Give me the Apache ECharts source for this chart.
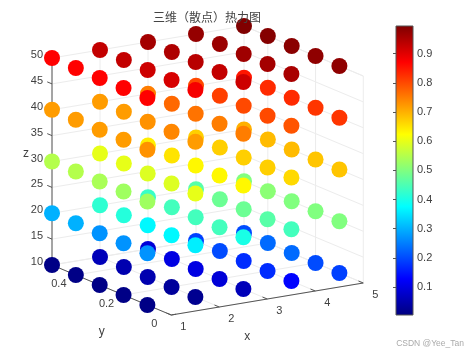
<!DOCTYPE html>
<html>
<head>
<meta charset="utf-8">
<title>三维（散点）热力图</title>
<script src="https://cdn.jsdelivr.net/npm/echarts@6/dist/echarts.min.js"></script>
<style>
    html, body { margin: 0; padding: 0; background: #fff; }
    #main { width: 474px; height: 355px; }
</style>
</head>
<body>
<div id="main"></div>
<script>
var xValues = [1, 2, 3, 4, 5];
var yValues = [0.5, 0.4, 0.3, 0.2, 0.1];
var zValues = [10, 20, 30, 40, 50];

// one row per x, one column per y (0.5 -> 0.1)
var valuesZ10 = [
    [0.01, 0.01, 0.01, 0.01, 0.01],
    [0.06, 0.05, 0.05, 0.03, 0.02],
    [0.09, 0.10, 0.10, 0.09, 0.06],
    [0.19, 0.20, 0.17, 0.17, 0.13],
    [0.20, 0.23, 0.23, 0.20, 0.19]
];
var valuesZ20 = [
    [0.30, 0.30, 0.27, 0.27, 0.27],
    [0.42, 0.41, 0.37, 0.37, 0.36],
    [0.43, 0.44, 0.44, 0.44, 0.40],
    [0.46, 0.48, 0.48, 0.46, 0.44],
    [0.50, 0.51, 0.50, 0.50, 0.50]
];
var valuesZ30 = [
    [0.55, 0.55, 0.54, 0.53, 0.53],
    [0.60, 0.60, 0.59, 0.59, 0.60],
    [0.64, 0.65, 0.63, 0.63, 0.63],
    [0.67, 0.67, 0.67, 0.67, 0.66],
    [0.70, 0.69, 0.69, 0.68, 0.68]
];
var valuesZ40 = [
    [0.72, 0.72, 0.72, 0.72, 0.73],
    [0.72, 0.72, 0.73, 0.74, 0.72],
    [0.75, 0.77, 0.76, 0.75, 0.75],
    [0.80, 0.81, 0.80, 0.80, 0.79],
    [0.85, 0.83, 0.83, 0.82, 0.82]
];
var valuesZ50 = [
    [0.87, 0.87, 0.87, 0.87, 0.87],
    [0.93, 0.93, 0.92, 0.91, 0.88],
    [0.96, 0.95, 0.94, 0.93, 0.92],
    [0.975, 0.97, 0.965, 0.96, 0.955],
    [0.995, 0.99, 0.985, 0.98, 0.98]
];
var layers = [valuesZ10, valuesZ20, valuesZ30, valuesZ40, valuesZ50];

var xTicks = [1, 2, 3, 4, 5];
var yTicks = [0, 0.2, 0.4];
var zTicks = [10, 15, 20, 25, 30, 35, 40, 45, 50];
var colorbarTicks = [0.1, 0.2, 0.3, 0.4, 0.5, 0.6, 0.7, 0.8, 0.9];
var jet = ['#000080', '#0000ff', '#0080ff', '#00ffff', '#80ff80', '#ffff00', '#ff8000', '#ff0000', '#800000'];

var colorMin = 0.004, colorMax = 0.995;
var xMin = 1, xMax = 5, yMin = 0, yMax = 0.5, zMin = 10, zMax = 50;
var TICK_FONT = '"Liberation Sans", Arial, sans-serif';

// the camera: fixed oblique view, scene units equal the page pixels
function project(x, y, z) {
    var i = x - 1, j = (0.5 - y) * 10, k = (z - 10) / 10;
    return [52 + 48 * i + 23.85 * j, 265 - 8 * i + 10 * j - 51.75 * k];
}

function seg(a, b) {
    var p = project(a[0], a[1], a[2]), q = project(b[0], b[1], b[2]);
    return [p[0], p[1], q[0], q[1]];
}

var gridSegs = [], axisSegs = [];

zTicks.forEach(function(z) {
    gridSegs.push(seg([xMin, yMax, z], [xMax, yMax, z]));
    gridSegs.push(seg([xMax, yMax, z], [xMax, yMin, z]));
    axisSegs.push(seg([xMin, yMax, z], [xMin, yMax + 0.02, z]));
});
xTicks.forEach(function(x) {
    gridSegs.push(seg([x, yMax, zMin], [x, yMax, zMax]));
    gridSegs.push(seg([x, yMin, zMin], [x, yMax, zMin]));
    axisSegs.push(seg([x, yMin, zMin], [x, yMin + 0.02, zMin]));
});
yTicks.forEach(function(y) {
    gridSegs.push(seg([xMax, y, zMin], [xMax, y, zMax]));
    gridSegs.push(seg([xMin, y, zMin], [xMax, y, zMin]));
    axisSegs.push(seg([xMin, y, zMin], [xMin + 0.1, y, zMin]));
});
gridSegs.push(seg([xMin, yMax, zMin], [xMax, yMax, zMin]));
gridSegs.push(seg([xMax, yMax, zMax], [xMax, yMin, zMax]));

axisSegs.push(seg([xMin, yMax, zMin], [xMin, yMax, zMax]));
axisSegs.push(seg([xMin, yMax, zMin], [xMin, yMin, zMin]));
axisSegs.push(seg([xMin, yMin, zMin], [xMax, yMin, zMin]));

// far dots first so the near ones cover them, like the depth sort in the picture
var dots = [];
zValues.forEach(function(z, k) {
    for (var i = xValues.length - 1; i >= 0; i--) {
        yValues.forEach(function(y, j) {
            var p = project(xValues[i], y, z);
            dots.push([p[0], p[1], layers[k][i][j]]);
        });
    }
});

function lineSeries(segs, color) {
    return {
        type: 'custom',
        silent: true,
        clip: false,
        data: segs,
        renderItem: function(params, api) {
            var a = api.coord([api.value(0), api.value(1)]);
            var b = api.coord([api.value(2), api.value(3)]);
            return {
                type: 'line',
                shape: { x1: a[0], y1: a[1], x2: b[0], y2: b[1] },
                style: { stroke: color, lineWidth: 1 }
            };
        }
    };
}

function textSeries(items, dx, dy, align, fontSize) {
    return {
        type: 'custom',
        silent: true,
        clip: false,
        z: 5,
        data: items.map(function(o) { return [o.pos[0], o.pos[1]]; }),
        renderItem: function(params, api) {
            var c = api.coord([api.value(0), api.value(1)]);
            return {
                type: 'text',
                x: c[0] + dx,
                y: c[1] + dy,
                style: {
                    text: items[params.dataIndex].text,
                    fill: '#404040',
                    font: (fontSize || 11) + 'px ' + TICK_FONT,
                    align: align,
                    verticalAlign: 'middle'
                }
            };
        }
    };
}

var zLabels = zTicks.map(function(z) {
    return { pos: project(xMin, yMax, z), text: String(z) };
});
var yLabels = yTicks.map(function(y) {
    return { pos: project(xMin, y, zMin), text: String(y) };
});
var xLabels = xTicks.map(function(x) {
    return { pos: project(x, yMin, zMin), text: String(x) };
});
var axisNames = [
    { pos: project(xMin, yMax, 30), text: 'z', dx: -26, dy: -8 },
    { pos: project(xMin, 0.25, zMin), text: 'y', dx: -10, dy: 42 },
    { pos: project(3, yMin, zMin), text: 'x', dx: -20, dy: 38 }
];

// the colour bar itself, a jet gradient between the two ends of its axis
var colorbarSeries = {
    type: 'custom',
    silent: true,
    xAxisIndex: 1,
    yAxisIndex: 1,
    data: [[0, colorMin, 1, colorMax]],
    renderItem: function(params, api) {
        var a = api.coord([api.value(0), api.value(1)]);
        var b = api.coord([api.value(2), api.value(3)]);
        return {
            type: 'rect',
            shape: { x: a[0], y: b[1], width: b[0] - a[0], height: a[1] - b[1] },
            style: {
                fill: new echarts.graphic.LinearGradient(0, 1, 0, 0, jet.map(function(c, n) {
                    return { offset: n / (jet.length - 1), color: c };
                }))
            }
        };
    }
};

var option = {
    animation: false,
    backgroundColor: '#fff',
    title: {
        text: '三维（散点）热力图',
        left: 148,
        top: 6,
        textStyle: {
            fontFamily: '"Noto Sans CJK SC", sans-serif',
            fontWeight: 'normal',
            fontSize: 12,
            color: '#444'
        }
    },
    graphic: [{
        type: 'text',
        right: 10,
        top: 339,
        style: {
            text: 'CSDN @Yee_Tan',
            fill: '#aaa',
            font: '8.5px ' + TICK_FONT
        }
    }],
    grid: [
        { left: 0, right: 0, top: 0, bottom: 0 },
        { left: 396, top: 26, width: 17, height: 289, show: true, z: 6,
          backgroundColor: 'transparent', borderColor: '#555', borderWidth: 1 }
    ],
    xAxis: [
        { type: 'value', min: 0, max: 474, show: false, gridIndex: 0 },
        { type: 'value', min: 0, max: 1, show: false, gridIndex: 1 }
    ],
    yAxis: [
        { type: 'value', min: 0, max: 355, inverse: true, show: false, gridIndex: 0 },
        {
            type: 'value',
            gridIndex: 1,
            position: 'right',
            min: colorMin,
            max: colorMax,
            z: 7,
            axisLine: { show: false },
            splitLine: { show: false },
            axisTick: {
                show: true,
                inside: true,
                length: 3,
                lineStyle: { color: '#555' },
                customValues: colorbarTicks
            },
            axisLabel: {
                show: true,
                margin: 4,
                color: '#404040',
                fontFamily: TICK_FONT,
                fontSize: 11,
                customValues: colorbarTicks,
                formatter: function(v) { return v.toFixed(1); }
            }
        }
    ],
    visualMap: {
        type: 'continuous',
        show: false,
        min: colorMin,
        max: colorMax,
        dimension: 2,
        seriesIndex: 2,
        inRange: { color: jet }
    },
    series: [
        lineSeries(gridSegs, '#ececec'),
        lineSeries(axisSegs, '#555'),
        {
            type: 'scatter',
            silent: true,
            symbol: 'circle',
            symbolSize: 16,
            itemStyle: { opacity: 1 },
            data: dots
        },
        colorbarSeries,
        textSeries(zLabels, -9, -3, 'right'),
        textSeries(yLabels, -17, 9, 'center'),
        textSeries(xLabels, 12, 12, 'center')
    ].concat(axisNames.map(function(n) {
        return textSeries([n], n.dx, n.dy, 'center', 12);
    }))
};

var chart = echarts.init(document.getElementById('main'));
chart.setOption(option);
</script>
</body>
</html>
